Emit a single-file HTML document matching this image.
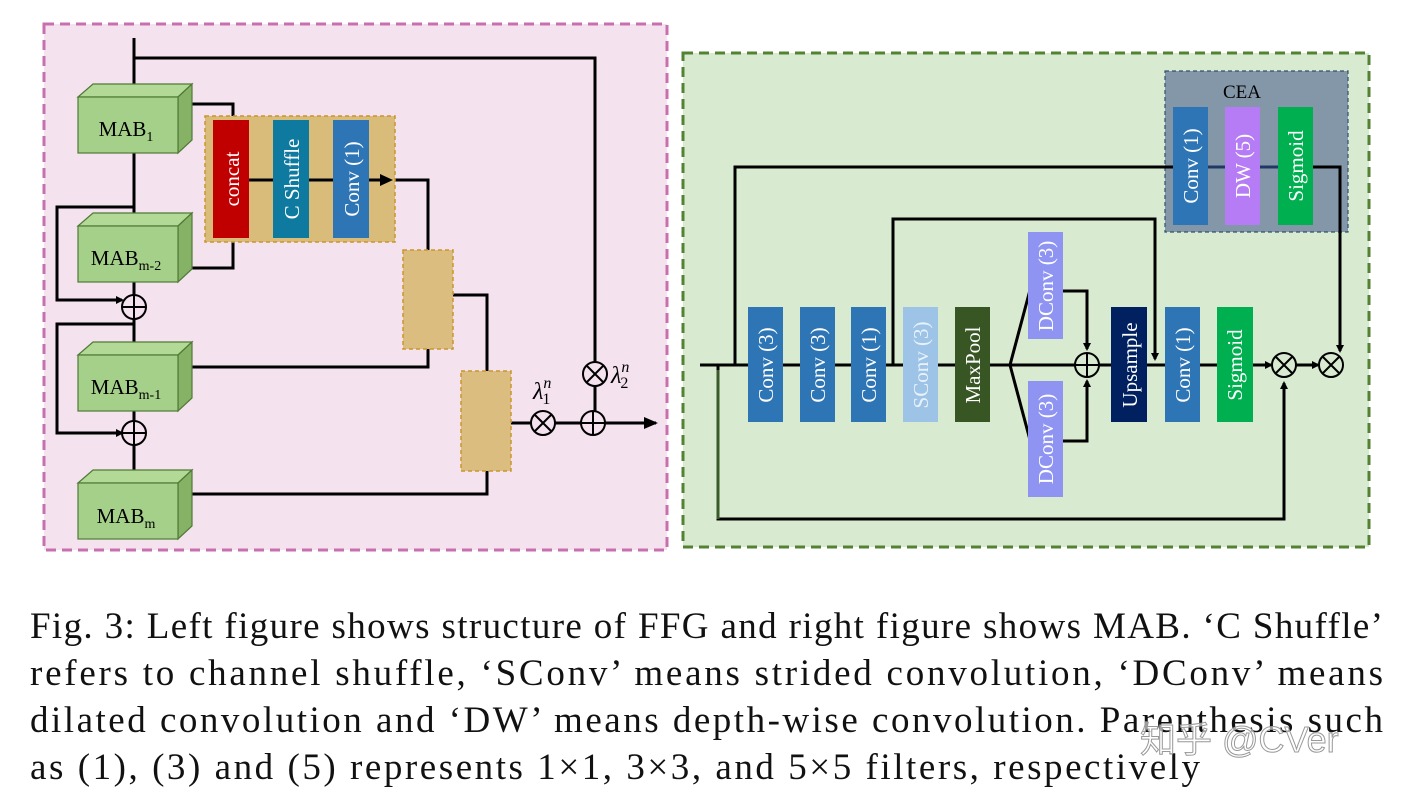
<!DOCTYPE html>
<html><head><meta charset="utf-8"><style>
html,body{margin:0;padding:0;background:#fff;}
svg{display:block;}
</style></head><body>
<svg width="1406" height="798" viewBox="0 0 1406 798" xmlns="http://www.w3.org/2000/svg" font-family="Liberation Serif, serif">
<defs>
<marker id="ah" markerWidth="8" markerHeight="8" refX="6" refY="4" orient="auto" markerUnits="userSpaceOnUse"><path d="M0,0 L8,4 L0,8 z" fill="#000"/></marker>
<marker id="ahb" markerWidth="14" markerHeight="12" refX="12" refY="6" orient="auto" markerUnits="userSpaceOnUse"><path d="M0,0 L14,6 L0,12 z" fill="#000"/></marker>
</defs>
<!-- LEFT PANEL -->
<rect x="44" y="24" width="623" height="526" fill="#f5e2ef" stroke="#c86fb0" stroke-width="3" stroke-dasharray="10,6"/>
<g stroke="#000" stroke-width="3" fill="none">
<polyline points="134,38 134,480"/>
<polyline points="134,58 595,58 595,362"/>
<polyline points="178,104 233,104 233,120"/>
<polyline points="192,268 233,268 233,238"/>
<polyline points="134,207 57,207 57,300 122,300" marker-end="url(#ah)"/>
<polyline points="134,324 57,324 57,433 122,433" marker-end="url(#ah)"/>
<polyline points="393,180 428,180 428,250"/>
<polyline points="453,295 487,295 487,371"/>
<polyline points="192,367 428,367 428,349"/>
<polyline points="192,494 487,494 487,471"/>
<polyline points="511,423 531,423"/>
<polyline points="555,423 581,423"/>
<polyline points="595,386 595,411"/>
<polyline points="605,423 656,423" marker-end="url(#ahb)"/>
</g>
<rect x="205" y="116" width="190" height="126" fill="#d9bb7a" stroke="#c9962e" stroke-width="1.5" stroke-dasharray="4,3"/>
<rect x="213" y="120" width="36" height="118" fill="#c00000"/>
<rect x="273" y="120" width="36" height="118" fill="#0e7aa0"/>
<rect x="333" y="120" width="36" height="118" fill="#2e75b6"/>
<line x1="249" y1="180" x2="273" y2="180" stroke="#000" stroke-width="3"/>
<line x1="309" y1="180" x2="333" y2="180" stroke="#000" stroke-width="3"/>
<line x1="369" y1="180" x2="385" y2="180" stroke="#000" stroke-width="3"/>
<path d="M380,174 L393,180 L380,186 z" fill="#000"/>
<g fill="#fff" font-size="21" text-anchor="middle">
<text transform="translate(239,179) rotate(-90)">concat</text>
<text transform="translate(299,179) rotate(-90)">C Shuffle</text>
<text transform="translate(359,179) rotate(-90)">Conv (1)</text>
</g>
<rect x="403" y="250" width="50" height="99" fill="#dcbd80" stroke="#c9962e" stroke-width="1.5" stroke-dasharray="4,3"/>
<rect x="461" y="371" width="50" height="100" fill="#dcbd80" stroke="#c9962e" stroke-width="1.5" stroke-dasharray="4,3"/>
<g stroke="#4f7a36" stroke-width="1.2">
<g id="m1">
<polygon points="78,97 93,84 192,84 178,97" fill="#b2da96"/>
<polygon points="178,97 192,84 192,140 178,153" fill="#86b266"/>
<rect x="78" y="97" width="100" height="56" fill="#a5d08a"/>
</g>
<use href="#m1" transform="translate(0,129)"/>
<use href="#m1" transform="translate(0,258)"/>
<use href="#m1" transform="translate(0,386)"/>
</g>
<g font-size="21" fill="#000" text-anchor="middle">
<text x="126" y="136">MAB<tspan font-size="14" dy="5">1</tspan></text>
<text x="126" y="265">MAB<tspan font-size="14" dy="5">m-2</tspan></text>
<text x="126" y="394">MAB<tspan font-size="14" dy="5">m-1</tspan></text>
<text x="126" y="523">MAB<tspan font-size="14" dy="5">m</tspan></text>
</g>
<g stroke="#000" stroke-width="2" fill="#f5e2ef">
<circle cx="134" cy="307" r="12"/><path d="M122,307 H146 M134,295 V319"/>
<circle cx="134" cy="433" r="12"/><path d="M122,433 H146 M134,421 V445"/>
<circle cx="543" cy="423" r="12"/><path d="M535,415 L551,431 M551,415 L535,431"/>
<circle cx="593" cy="423" r="12"/><path d="M581,423 H605 M593,411 V435"/>
<circle cx="595" cy="374" r="12"/><path d="M587,366 L603,382 M603,366 L587,382"/>
</g>
<text x="533" y="399" font-size="24" font-style="italic">λ<tspan font-size="16" dy="-11">n</tspan><tspan font-size="16" dx="-9" dy="16" font-style="normal">1</tspan></text>
<text x="611" y="383" font-size="24" font-style="italic">λ<tspan font-size="16" dy="-11">n</tspan><tspan font-size="16" dx="-9" dy="16" font-style="normal">2</tspan></text>

<!-- RIGHT PANEL -->
<rect x="683" y="53" width="686" height="494" fill="#d8ebd0" stroke="#548235" stroke-width="3" stroke-dasharray="10,6"/>
<rect x="1165" y="71" width="183" height="161" fill="#8497a8" stroke="#2f4f70" stroke-width="1.2" stroke-dasharray="4,3"/>
<text x="1242" y="98" font-size="19" text-anchor="middle">CEA</text>
<g stroke="#000" stroke-width="3" fill="none">
<polyline points="700,365 1268,365"/>
<polyline points="1296,365 1315,365"/>
<polyline points="735,365 735,167 1340,167 1340,351" marker-end="url(#ah)"/>
<polyline points="893,365 893,219 1155,219 1155,359" marker-end="url(#ah)"/>
<polyline points="1063,291 1087,291 1087,349" marker-end="url(#ah)"/>
<polyline points="1063,441 1087,441 1087,381" marker-end="url(#ah)"/>
<polyline points="1010,365 1030,290"/>
<polyline points="1010,365 1030,440"/>
<polyline points="1265,365 1271,365" marker-end="url(#ah)"/>
<polyline points="1310,365 1318,365" marker-end="url(#ah)"/>
</g>
<polyline points="718,365 718,519 1284,519 1284,383" stroke="#000" stroke-width="3" fill="none" marker-end="url(#ah)"/>
<line x1="718" y1="370" x2="718" y2="519" stroke="#3a5a2a" stroke-width="3"/>
<g>
<rect x="748" y="307" width="35" height="115" fill="#2e75b6"/>
<rect x="800" y="307" width="35" height="115" fill="#2e75b6"/>
<rect x="851" y="307" width="35" height="115" fill="#2e75b6"/>
<rect x="903" y="307" width="35" height="115" fill="#9dc3e6"/>
<rect x="955" y="307" width="35" height="115" fill="#375623"/>
<rect x="1028" y="232" width="35" height="107" fill="#8f94f2"/>
<rect x="1028" y="381" width="35" height="116" fill="#8f94f2"/>
<rect x="1111" y="307" width="36" height="115" fill="#002060"/>
<rect x="1165" y="307" width="35" height="115" fill="#2e75b6"/>
<rect x="1217" y="307" width="36" height="115" fill="#00b050"/>
<rect x="1173" y="107" width="35" height="118" fill="#2e75b6"/>
<rect x="1225" y="107" width="35" height="118" fill="#b57cf5"/>
<rect x="1278" y="107" width="35" height="118" fill="#00b050"/>
</g>
<line x1="1208" y1="167" x2="1225" y2="167" stroke="#1f3864" stroke-width="3"/>
<line x1="1260" y1="167" x2="1278" y2="167" stroke="#1f3864" stroke-width="3"/>
<g fill="#fff" font-size="21" text-anchor="middle">
<text transform="translate(773,365) rotate(-90)">Conv (3)</text>
<text transform="translate(825,365) rotate(-90)">Conv (3)</text>
<text transform="translate(876,365) rotate(-90)">Conv (1)</text>
<text transform="translate(928,365) rotate(-90)" fill="#e8f2fb">SConv (3)</text>
<text transform="translate(980,365) rotate(-90)">MaxPool</text>
<text transform="translate(1053,286) rotate(-90)">DConv (3)</text>
<text transform="translate(1053,439) rotate(-90)">DConv (3)</text>
<text transform="translate(1137,365) rotate(-90)">Upsample</text>
<text transform="translate(1190,365) rotate(-90)">Conv (1)</text>
<text transform="translate(1242,365) rotate(-90)">Sigmoid</text>
<text transform="translate(1198,166) rotate(-90)">Conv (1)</text>
<text transform="translate(1250,166) rotate(-90)">DW (5)</text>
<text transform="translate(1303,166) rotate(-90)">Sigmoid</text>
</g>
<g stroke="#000" stroke-width="2" fill="#d8ebd0">
<circle cx="1087" cy="365" r="12"/><path d="M1075,365 H1099 M1087,353 V377"/>
<circle cx="1284" cy="365" r="12"/><path d="M1276,357 L1292,373 M1292,357 L1276,373"/>
<circle cx="1331" cy="365" r="12"/><path d="M1323,357 L1339,373 M1339,357 L1323,373"/>
</g>

<!-- caption -->
<g font-size="37" fill="#111">
<text x="30" y="638" textLength="1353" lengthAdjust="spacing">Fig. 3: Left figure shows structure of FFG and right figure shows MAB. ‘C Shuffle’</text>
<text x="30" y="685" textLength="1353" lengthAdjust="spacing">refers to channel shuffle, ‘SConv’ means strided convolution, ‘DConv’ means</text>
<text x="30" y="732" textLength="1353" lengthAdjust="spacing">dilated convolution and ‘DW’ means depth-wise convolution. Parenthesis such</text>
<text x="30" y="779" textLength="1170" lengthAdjust="spacing">as (1), (3) and (5) represents 1×1, 3×3, and 5×5 filters, respectively</text>
</g>
<text x="1140" y="752" font-family="Liberation Sans, Noto Sans CJK SC, sans-serif" font-size="36" fill="#fff" fill-opacity="0.6" stroke="#999" stroke-width="1">知乎 @CVer</text>
</svg>
</body></html>
